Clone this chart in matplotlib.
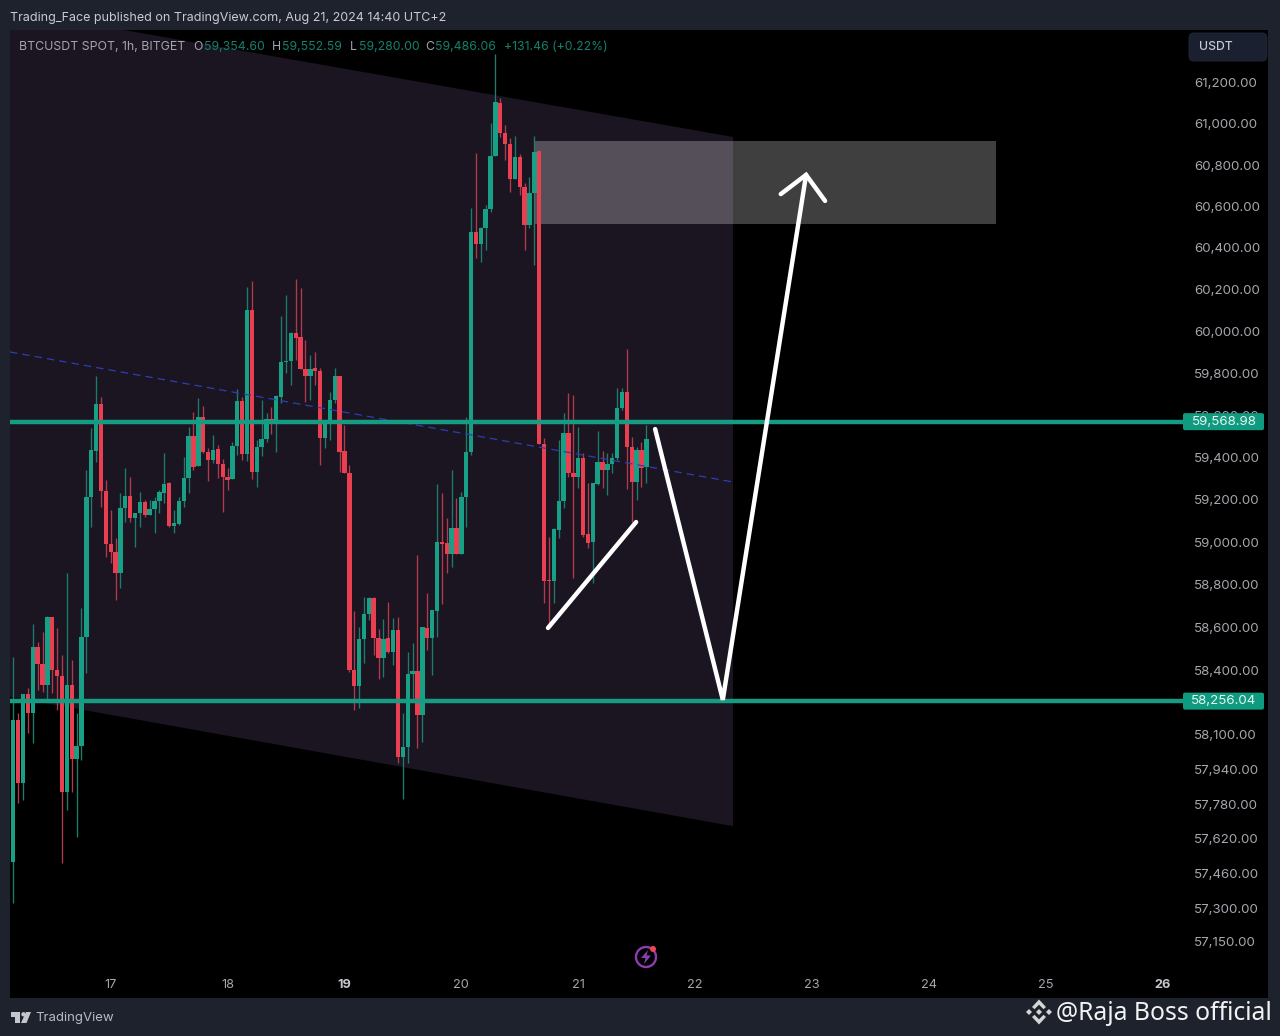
import numpy as np
import matplotlib
matplotlib.use("Agg")
import matplotlib.pyplot as plt
from matplotlib.patches import Rectangle, FancyBboxPatch, Circle, Polygon
from matplotlib.transforms import Affine2D
from matplotlib.ticker import NullLocator, NullFormatter

# ---- data -------------------------------------------------------------
opens = [57513,58169,57877,58290,58201,58508,58429,58332,58648,58401,
 58373,57835,58332,57987,58048,58555,59212,59430,59653,59241,
 58991,58954,58855,59160,59217,59113,59137,59189,59127,59156,
 59193,59231,59278,59075,59085,59193,59302,59501,59359,59591,
 59425,59388,59440,59369,59307,59297,59454,59667,59416,60102,
 59331,59449,59487,59582,59558,59686,59854,59858,59992,59973,
 59820,59787,59825,59811,59492,59567,59672,59787,59430,59326,
 58401,58327,58546,58662,58737,58550,58457,58550,58485,58588,
 57997,58043,58382,58396,58192,58597,58550,58676,59001,58996,
 58944,59066,58944,59212,59425,60477,60419,60496,60588,60845,
 61102,60956,60903,60734,60840,60695,60511,60666,60869,59463,
 58822,58817,59057,59193,59515,59326,59307,59397,59038,59001,
 59274,59378,59340,59369,59397,59634,59710,59449,59283,59435,59354.60]
closes = [58169,57877,58290,58201,58508,58429,58332,58648,58401,58373,
 57835,58332,57987,58048,58555,59212,59435,59653,59241,58991,
 58954,58855,59160,59217,59113,59137,59189,59127,59156,59193,
 59236,59274,59075,59090,59193,59302,59501,59355,59591,59425,
 59388,59435,59369,59307,59293,59454,59667,59416,60102,59331,
 59449,59487,59582,59558,59691,59854,59858,59992,59968,59820,
 59787,59820,59811,59492,59567,59672,59787,59425,59326,58401,
 58327,58546,58662,58737,58550,58457,58546,58485,58588,57997,
 58043,58382,58396,58192,58602,58550,58681,59001,58991,58944,
 59066,58944,59212,59425,60477,60419,60496,60588,60845,61107,
 60956,60903,60734,60840,60695,60511,60666,60864,59463,58817,
 58817,59061,59193,59515,59326,59307,59397,59033,58996,59278,
 59378,59340,59369,59397,59634,59710,59449,59283,59435,59350,59486.06]
highs = [58462,58201,58290,58318,58616,58531,58578,58653,58648,58597,
 58471,58855,58447,58201,58690,59340,59539,59787,59686,59293,
 59151,59019,59231,59350,59307,59137,59236,59198,59198,59212,
 59245,59421,59283,59151,59212,59402,59544,59615,59682,59643,
 59444,59506,59459,59392,59350,59473,59725,59686,60212,60241,
 59482,59672,59610,59639,59696,60074,60174,59997,60251,60207,
 59959,59887,59901,59825,59577,59710,59825,59787,59553,59364,
 58676,58602,58742,58742,58742,58592,58639,58719,58644,58648,
 58201,58485,58527,58939,58602,58761,58681,59274,59231,59113,
 59340,59208,59236,59591,60593,60859,60501,60608,61005,61341,
 61127,60995,60932,60942,60855,60714,60743,60942,60874,59492,
 59024,59066,59482,59610,59705,59696,59544,59421,59278,59278,
 59525,59430,59421,59421,59729,59729,59916,59496,59449,59473,59552.59]
lows = [57325,57784,57798,58108,58062,58308,58299,58253,58294,58215,
 57508,57752,57835,57628,57983,58387,59071,59378,59165,58930,
 58902,58728,58784,59094,59094,58977,59071,59118,59127,59043,
 59137,59184,59071,59043,59080,59165,59231,59340,59359,59421,
 59288,59373,59302,59141,59245,59297,59411,59388,59383,59297,
 59260,59407,59473,59511,59425,59658,59801,59744,59863,59820,
 59663,59672,59744,59364,59444,59482,59658,59331,59326,58391,
 58215,58225,58434,58634,58471,58359,58369,58480,58424,57969,
 57803,57969,58262,58038,58066,58494,58378,58555,58709,58855,
 58883,58944,58944,59071,59411,60352,60333,60390,60574,60845,
 60937,60826,60671,60734,60656,60390,60496,60318,59463,58714,
 58602,58714,59019,59160,59307,58831,59255,59024,58972,58808,
 59269,59255,59222,59326,59388,59625,59250,59094,59198,59260,59280.00]

price_ticks = [61200,61000,60800,60600,60400,60200,60000,59800,59600,59400,59200,59000,
               58800,58600,58400,58100,57940,57780,57620,57460,57300,57150]
day_ticks_hours = [20,44,68,92,116,140,164,188,212,236]
day_labels = ['17','18','19','20','21','22','23','24','25','26']
bold_days = ['19','26']

level_prices = [59568.98, 58256.04]
channel_hours = [-0.68,147.8,147.8,-0.68]
channel_prices = [61557,60937,57678,58276]
zone_hours = [106.9,201.8]
zone_prices = [60516,60917]
dash_hours = [-0.68,147.8]
dash_prices = [59901,59283]
swing1_hours = [109.8,127.9]
swing1_prices = [58597,59094]
swing2_hours = [131.8,145.7,162.8]
swing2_prices = [59534,58262,60753]
head_hours = [157.6,162.8,166.7]
head_prices = [60660,60753,60627]

# ---- style ------------------------------------------------------------
W, H = 1280, 1036
BG = '#1e222d'
GREEN = '#18a087'
RED = '#ea3f51'
WICK_G = '#1c7d6d'
WICK_R = '#b23a4a'
PURPLE = '#1b1522'
LEVEL = '#169c83'
TICK = '#a5a7ad'
FONT = ['Inter', 'DejaVu Sans']
plt.rcParams['font.family'] = FONT

fig = plt.figure(figsize=(W/100, H/100), dpi=100, facecolor=BG)
px = Affine2D().scale(1, -1).translate(0, H)   # figure pixels, y downwards

# black strip under the price labels
fig.add_artist(Rectangle((1183, 30), 85, 968, transform=px, fc='black', ec='none', zorder=0))

L, R, T, B = 10, 1183, 30, 998
ax = fig.add_axes([L/W, 1-B/H, (R-L)/W, (B-T)/H], facecolor='black')
ax.set_yscale('log')
ax.set_xlim(-0.678, 240.2)
ax.set_ylim(56893, 61459)
for s in ax.spines.values():
    s.set_visible(False)

ax.fill(channel_hours, channel_prices, fc=PURPLE, ec='none', zorder=1)
ax.add_patch(Rectangle((zone_hours[0], zone_prices[0]), zone_hours[1]-zone_hours[0],
                       zone_prices[1]-zone_prices[0], fc='white', alpha=0.25, ec='none', zorder=1.5))

idx = np.arange(len(opens))
o, c, h, l = map(np.array, (opens, closes, highs, lows))
up = c >= o
ax.vlines(idx[up], l[up], h[up], color=WICK_G, lw=0.95, zorder=2)
ax.vlines(idx[~up], l[~up], h[~up], color=WICK_R, lw=0.95, zorder=2)
top = np.maximum(o, c); bot = np.minimum(o, c)
ax.bar(idx[up], top[up]-bot[up], bottom=bot[up], width=0.9, color=GREEN, lw=0, zorder=3)
ax.bar(idx[~up], top[~up]-bot[~up], bottom=bot[~up], width=0.9, color=RED, lw=0, zorder=3)

ax.plot(dash_hours, dash_prices, color='#2b3fae', lw=0.9, ls=(0, (6, 4)), zorder=3.5)
for p in level_prices:
    ax.axhline(p, color=LEVEL, lw=3.2, zorder=4)

white = dict(color='white', lw=3.2, solid_capstyle='round', solid_joinstyle='miter', zorder=5)
ax.plot(swing1_hours, swing1_prices, **white)
ax.plot(swing2_hours, swing2_prices, **white)
ax.plot(head_hours, head_prices, **white)

# axes ticks
ax.yaxis.tick_right()
ax.set_yticks(price_ticks)
ax.set_yticklabels([f'{p:,.2f}' for p in price_ticks])
ax.yaxis.set_minor_locator(NullLocator())
ax.yaxis.set_minor_formatter(NullFormatter())
ax.tick_params(axis='y', length=0, pad=8.2, labelsize=9.6, labelcolor=TICK)
ax.set_xticks(day_ticks_hours)
ax.set_xticklabels(day_labels)
ax.tick_params(axis='x', length=0, pad=-13.5, labelsize=9.2, labelcolor=TICK)
for lab in ax.get_xticklabels():
    if lab.get_text() in bold_days:
        lab.set_fontweight('bold')
        lab.set_color('#c4c6cc')

def t(x, y, s, **kw):
    kw.setdefault('va', 'center')
    kw.setdefault('ha', 'left')
    return fig.text(x, y, s, transform=px, **kw)

# price tags, placed from the axis scale
for p in level_prices:
    yp = H - ax.transData.transform((0, p))[1]
    fig.add_artist(FancyBboxPatch((1185, yp-6.5), 77, 13, boxstyle='round,pad=2,rounding_size=2',
                                  transform=px, fc='#0f9b80', ec='none', zorder=6))
    t(1224, yp, f'{p:,.2f}', ha='center', fontsize=9.6, color='#e8f5f2', zorder=7)

# header
t(10, 18, 'Trading_Face published on TradingView.com, Aug 21, 2024 14:40 UTC+2', fontsize=9.0, color='#c9cbd1')
LG = '#a3a5ab'; LV = '#14806f'
t(19, 47, 'BTCUSDT SPOT, 1h, BITGET', fontsize=8.9, color=LG, zorder=8)
for x, s, col in [(193, 'O', LG), (204, '59,354.60', LV), (272, 'H', LG), (282, '59,552.59', LV),
                  (350, 'L', LG), (359, '59,280.00', LV), (425, 'C', LG), (435, '59,486.06', LV),
                  (504, '+131.46 (+0.22%)', LV)]:
    t(x, 47, s, fontsize=8.8, color=col, zorder=8)

# USDT button
fig.add_artist(FancyBboxPatch((1192, 36), 72, 22, boxstyle='round,pad=3,rounding_size=5',
                              transform=px, fc='#1a2030', ec='#232838', lw=0.6, zorder=7))
t(1199, 46.5, 'USDT', fontsize=8.8, color='#c6c9d4', fontweight='medium', zorder=8)

# lightning badge
fig.add_artist(Circle((646, 957), 10, transform=px, fc='none', ec='#8e3cb0', lw=1.7, zorder=7))
fig.add_artist(Polygon([(648, 950), (641, 958), (645.5, 958), (644, 964), (651, 955.5), (646.5, 955.5)],
                       transform=px, fc='#8e3cb0', ec='none', zorder=8))
fig.add_artist(Circle((653, 949), 3, transform=px, fc='#ef4455', ec='none', zorder=9))

# TradingView footer
fig.add_artist(Polygon([(11, 1012), (20, 1012), (20, 1023), (15, 1023), (15, 1017), (11, 1017)],
                       transform=px, fc='#c4c6cc', ec='none', zorder=8))
fig.add_artist(Circle((23.5, 1014.3), 2.2, transform=px, fc='#c4c6cc', ec='none', zorder=8))
fig.add_artist(Polygon([(26, 1012), (31, 1012), (26.5, 1023), (21, 1023)],
                       transform=px, fc='#c4c6cc', ec='none', zorder=8))
t(35, 1018, 'TradingView', fontsize=9.5, color='#b9bbc1', zorder=8)

# watermark
GR = '#d5d5d5'
cx, cy = 1039, 1012
for dx, dy, r in [(0, 0, 3), (-10, 0, 3), (10, 0, 3)]:
    x0, y0 = cx+dx, cy+dy
    fig.add_artist(Polygon([(x0-r, y0), (x0, y0-r), (x0+r, y0), (x0, y0+r)], transform=px, fc=GR, ec='none', zorder=9))
for s in (-1, 1):
    fig.add_artist(Polygon([(cx-7, cy+s*5), (cx, cy+s*12.5), (cx+7, cy+s*5), (cx+4.5, cy+s*2.8), (cx, cy+s*7.3), (cx-4.5, cy+s*2.8)],
                           transform=px, fc=GR, ec='none', zorder=9))
t(1056, 1013.5, '@Raja Boss official', fontsize=17.8, color='#f2f2f2', family=['Noto Sans', 'DejaVu Sans'], zorder=9)

fig.savefig('out.png', dpi=100, facecolor=BG)
